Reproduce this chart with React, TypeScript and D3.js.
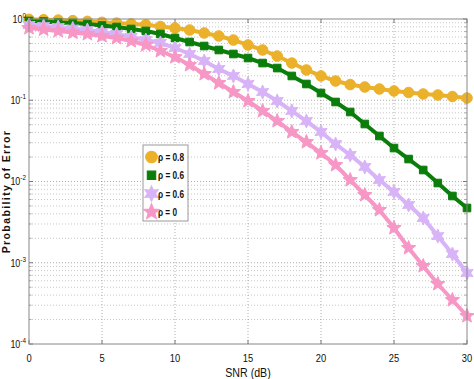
import React from "react";
import * as d3 from "d3";

const snr = d3.range(0, 31);
const rho08 = [0.99, 0.98, 0.97, 0.955, 0.935, 0.91, 0.89, 0.87, 0.85, 0.809, 0.775, 0.732, 0.673, 0.618, 0.551, 0.479, 0.4155, 0.35, 0.287, 0.236, 0.199, 0.1725, 0.156, 0.1456, 0.1376, 0.13, 0.1245, 0.1194, 0.116, 0.1112, 0.1066];
const rho06a = [0.945, 0.932, 0.905, 0.893, 0.868, 0.832, 0.797, 0.753, 0.712, 0.654, 0.584, 0.521, 0.465, 0.4155, 0.371, 0.331, 0.287, 0.249, 0.199, 0.1585, 0.1228, 0.0952, 0.0717, 0.051, 0.0363, 0.0258, 0.0189, 0.01385, 0.00958, 0.00663, 0.00472];
const rho06b = [0.844, 0.82, 0.797, 0.764, 0.732, 0.692, 0.654, 0.6, 0.551, 0.507, 0.4395, 0.371, 0.304, 0.2424, 0.199, 0.1585, 0.1263, 0.0979, 0.0738, 0.0555, 0.0407, 0.0289, 0.0212, 0.0151, 0.01043, 0.00743, 0.00514, 0.00355, 0.00213, 0.00128, 0.000748];
const rho0 = [0.775, 0.743, 0.712, 0.682, 0.654, 0.618, 0.584, 0.536, 0.479, 0.404, 0.34, 0.2716, 0.2103, 0.163, 0.1263, 0.0979, 0.0738, 0.0555, 0.0407, 0.0306, 0.0224, 0.01596, 0.01043, 0.00682, 0.00446, 0.00268, 0.00152, 0.000912, 0.000548, 0.000348, 0.000221];

const legendLabels = ["ρ = 0.8", "ρ = 0.6", "ρ = 0.6", "ρ = 0"];
const xTicks = [0, 5, 10, 15, 20, 25, 30];
const yExponents = [0, -1, -2, -3, -4];

const W = 474, H = 379;
const L = 29, R = 467, T = 19, B = 344;

function starPath(n: number, rOut: number, rIn: number) {
  const pts: [number, number][] = [];
  for (let i = 0; i < 2 * n; i++) {
    const a = -Math.PI / 2 + (i * Math.PI) / n;
    const r = i % 2 === 0 ? rOut : rIn;
    pts.push([r * Math.cos(a), r * Math.sin(a)]);
  }
  return "M" + pts.map((p) => p[0].toFixed(2) + "," + p[1].toFixed(2)).join("L") + "Z";
}

const series = [
  { values: rho08, color: "#EBB12A", marker: d3.symbol(d3.symbolCircle, 88)() as string },
  { values: rho06a, color: "#0B7D0B", marker: d3.symbol(d3.symbolSquare, 58)() as string },
  { values: rho06b, color: "#D8B3F7", marker: starPath(6, 7, 3.6) },
  { values: rho0, color: "#F797C6", marker: starPath(5, 7.5, 3.3) },
];

export default function App() {
  const x = d3.scaleLinear().domain([0, 30]).range([L, R]);
  const y = d3.scaleLog().domain([1e-4, 1]).range([B, T]);
  const line = d3
    .line<number>()
    .x((_, i) => x(snr[i]))
    .y((d) => y(d));

  const minor: number[] = [];
  for (let e = -4; e < 0; e++) {
    for (let k = 2; k <= 9; k++) minor.push(k * Math.pow(10, e));
  }
  const font = "'Liberation Sans', Arial, sans-serif";
  const gridStyle = { stroke: "#777", strokeWidth: 0.6, strokeDasharray: "1,2" };

  return (
    <svg width={W} height={H} style={{ position: "absolute", left: 0, top: 0, background: "#fff" }}>
      {/* grid */}
      {xTicks.slice(1, -1).map((t) => (
        <line key={"gx" + t} x1={x(t)} x2={x(t)} y1={T} y2={B} {...gridStyle} />
      ))}
      {yExponents.slice(1, -1).map((e) => (
        <line key={"gy" + e} x1={L} x2={R} y1={y(Math.pow(10, e))} y2={y(Math.pow(10, e))} {...gridStyle} />
      ))}
      {minor.map((m, i) => (
        <line key={"gm" + i} x1={L} x2={R} y1={y(m)} y2={y(m)} {...gridStyle} strokeOpacity={0.7} />
      ))}
      {/* ticks */}
      {xTicks.map((t) => (
        <g key={"tx" + t}>
          <line x1={x(t)} x2={x(t)} y1={B} y2={B - 4} stroke="#777" />
          <line x1={x(t)} x2={x(t)} y1={T} y2={T + 4} stroke="#777" />
        </g>
      ))}
      {minor.map((m, i) => (
        <g key={"tm" + i}>
          <line x1={L} x2={L + 2.5} y1={y(m)} y2={y(m)} stroke="#888" strokeWidth={0.7} />
          <line x1={R} x2={R - 2.5} y1={y(m)} y2={y(m)} stroke="#888" strokeWidth={0.7} />
        </g>
      ))}
      {yExponents.map((e) => (
        <g key={"ty" + e}>
          <line x1={L} x2={L + 4} y1={y(Math.pow(10, e))} y2={y(Math.pow(10, e))} stroke="#777" />
          <line x1={R} x2={R - 4} y1={y(Math.pow(10, e))} y2={y(Math.pow(10, e))} stroke="#777" />
        </g>
      ))}
      {/* series */}
      {series.map((s, si) => (
        <g key={"s" + si}>
          <path d={line(s.values) as string} fill="none" stroke={s.color} strokeWidth={4} strokeLinejoin="round" />
          {s.values.map((v, i) => (
            <path key={i} d={s.marker} transform={`translate(${x(snr[i])},${y(v)})`} fill={s.color} stroke={s.color} strokeWidth={1} />
          ))}
        </g>
      ))}
      {/* box */}
      <rect x={L} y={T} width={R - L} height={B - T} fill="none" stroke="#888" strokeWidth={1} />
      {/* x tick labels */}
      {xTicks.map((t) => (
        <text key={"lx" + t} x={x(t)} y={362} textAnchor="middle" fontFamily={font} fontSize={11} fill="#111" transform={`translate(${x(t)},0) scale(0.85,1) translate(${-x(t)},0)`}>
          {t}
        </text>
      ))}
      {/* y tick labels */}
      {yExponents.map((e) => (
        <text key={"ly" + e} x={L - 3} y={y(Math.pow(10, e)) + 4} textAnchor="end" fontFamily={font} fontSize={10.5} fill="#111" transform={`translate(${L - 3},0) scale(0.85,1) translate(${-(L - 3)},0)`}>
          10
          <tspan dy={-5} fontSize={7.5}>{e}</tspan>
        </text>
      ))}
      <text x={248} y={377} textAnchor="middle" fontFamily={font} fontSize={12.5} fill="#111" transform="translate(248,0) scale(0.85,1) translate(-248,0)">
        SNR (dB)
      </text>
      <text
        transform={`translate(9.5,${(T + B) / 2 + 10}) rotate(-90)`}
        textAnchor="middle"
        fontFamily={font}
        fontWeight="bold"
        fontSize={10.5}
        letterSpacing={1.4}
        fill="#111"
      >
        Probability of Error
      </text>
      {/* legend */}
      <rect x={143} y={145} width={45} height={76} fill="#fff" stroke="#999" strokeWidth={1} />
      {series.map((s, i) => {
        const ly = 157 + i * 18.3;
        return (
          <g key={"lg" + i}>
            <path d={s.marker} transform={`translate(151.5,${ly}) scale(1.1)`} fill={s.color} stroke={s.color} />
            <text
              x={158}
              y={ly + 4}
              fontFamily={font}
              fontWeight="bold"
              fontSize={10.5}
              fill="#111"
              textLength={i === 3 ? 19 : 26}
              lengthAdjust="spacingAndGlyphs"
            >
              {legendLabels[i]}
            </text>
          </g>
        );
      })}
    </svg>
  );
}
